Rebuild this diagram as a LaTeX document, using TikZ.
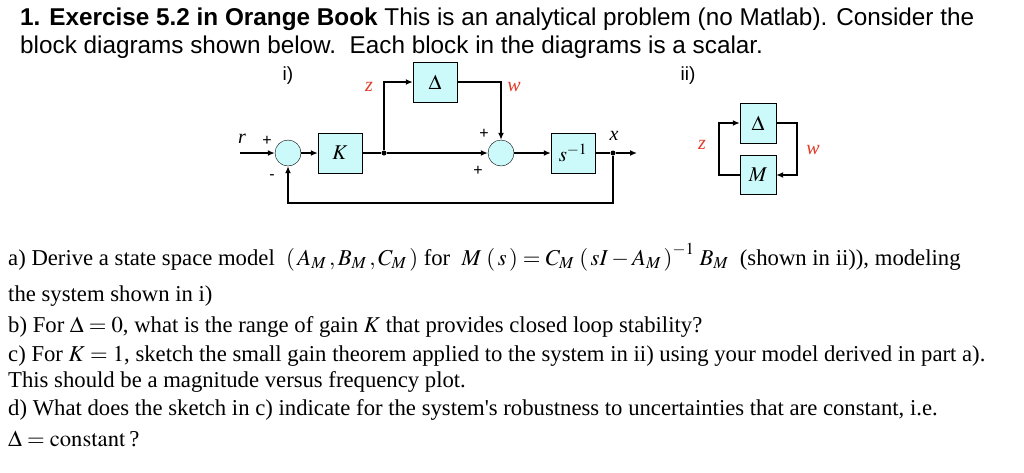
\documentclass[tikz,border=0pt]{standalone}
\usepackage{mathptmx}
\usepackage{fontspec}
\setmainfont{Liberation Serif}
\setsansfont{Liberation Sans}
\usetikzlibrary{arrows.meta}
\definecolor{boxc}{RGB}{204,250,250}
\definecolor{lab}{RGB}{225,60,40}
\tikzset{
 blk/.style={draw,fill=boxc,minimum width=44pt,minimum height=40pt,inner sep=0pt,font=\fontsize{21}{21}\selectfont},
 sm/.style={draw,fill=boxc,circle,minimum size=26pt,inner sep=0pt},
 wire/.style={line width=1.6pt,-{Latex[length=7pt,width=6pt]}},
 ln/.style={line width=1.6pt},
 dot/.style={circle,fill,inner sep=0pt,minimum size=5pt},
 sg/.style={font=\fontsize{16}{16}\selectfont\sffamily},
 lb/.style={text=lab,font=\fontsize{20}{20}\selectfont\itshape},
 tx/.style={anchor=base west,inner sep=0pt,font=\fontsize{22.7}{22.7}\selectfont},
 hd/.style={anchor=base west,inner sep=0pt,font=\fontsize{24.3}{24.3}\selectfont\sffamily}
}
\begin{document}
\begin{tikzpicture}[x=1pt,y=-1pt]
\useasboundingbox[fill=white] (0,0) rectangle (1024,472);
\node[hd] (t1) at (20,25) {\textbf{1. Exercise 5.2 in Orange Book} This is an analytical problem (no Matlab). Consider the};
\node[hd] (t2) at (20,53) {block diagrams shown below.\ \ Each block in the diagrams is a scalar.};
\node[sg,font=\fontsize{19}{19}\selectfont\sffamily] (i) at (288,76) {i)};
\node[sg,font=\fontsize{19}{19}\selectfont\sffamily] (ii) at (688,76) {ii)};
% diagram i
\coordinate (in) at (240,153);
\node[sm] (s1) at (288,153) {};
\node[blk] (K) at (340,153) {$K$};
\node[dot] (j1) at (384,153) {};
\node[blk] (D) at (435,82) {$\Delta$};
\node[sm] (s2) at (501,153) {};
\node[blk] (S) at (573,153) {$s^{-1}$};
\node[dot] (j2) at (613,153) {};
\coordinate (out) at (637,153);
\draw[wire] (in) -- (s1);
\draw[wire] (s1) -- (K);
\draw[ln] (K) -- (j1);
\draw[wire] (j1) -- (s2);
\draw[wire] (j1) |- (D);
\draw[wire] (D) -| (s2);
\draw[wire] (s2) -- (S);
\draw[ln] (S) -- (j2);
\draw[wire] (j2) -- (out);
\draw[wire] (j2) -- (613,203) -| (s1);
\node[lb] (z1) at (369,87) {z};
\node[lb] (w1) at (514,87) {w};
\node[font=\fontsize{20}{20}\selectfont\itshape] (r) at (242,139) {r};
\node[sg] (p1) at (267,141) {+};
\node[sg] (m1) at (272,177) {-};
\node[sg] (p2) at (484,134) {+};
\node[sg] (p3) at (478,171) {+};
\node[font=\fontsize{20}{20}\selectfont\itshape] (x) at (614,136) {x};
% diagram ii
\node[blk,minimum width=36pt] (D2) at (758,123) {$\Delta$};
\node[blk,minimum width=36pt,minimum height=39pt] (M) at (758,175) {$M$};
\draw[wire] (M.west) -- (719,175) |- (D2.west);
\draw[wire] (D2.east) -- (797,123) |- (M.east);
\node[lb] (z2) at (702,145) {z};
\node[lb] (w2) at (813,150) {w};
% text
\node[tx] (a) at (8,265) {a) Derive a state space model \ $\left(\,A_M\,,B_M\,,C_M\,\right)$\ for \ $M\,\left(\,s\,\right)=C_M\,\left(\,sI-A_M\,\right)^{-1}\,B_M$ \ (shown in ii)), modeling};
\node[tx] (a2) at (8,301) {the system shown in i)};
\node[tx] (b) at (8,332) {b) For $\Delta=0$, what is the range of gain $K$ that provides closed loop stability?};
\node[tx] (c) at (8,361) {c) For $K=1$, sketch the small gain theorem applied to the system in ii) using your model derived in part a).};
\node[tx] (c2) at (8,387) {This should be a magnitude versus frequency plot.};
\node[tx] (d) at (8,415) {d) What does the sketch in c) indicate for the system\textquotesingle s robustness to uncertainties that are constant, i.e.};
\node[tx] (d2) at (8,446) {$\Delta=\mathrm{constant}$\,?};
\end{tikzpicture}
\end{document}
